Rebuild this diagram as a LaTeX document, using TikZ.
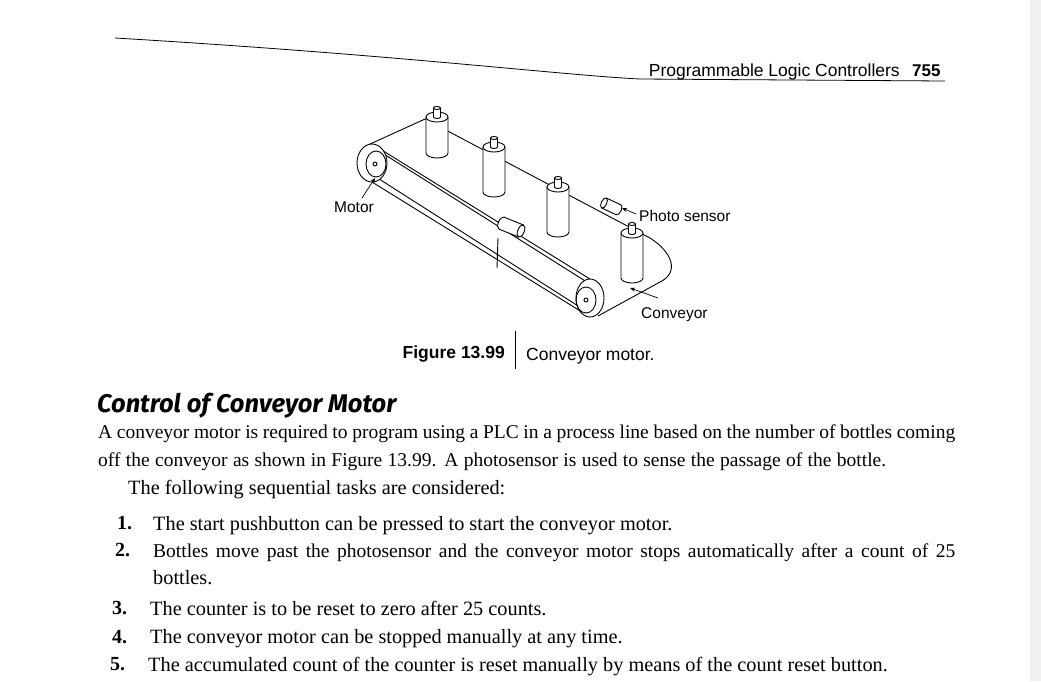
\documentclass[tikz,border=0pt]{standalone}
\usepackage{fontspec}
\setmainfont{Liberation Serif}
\setsansfont{Liberation Sans}
\newfontfamily\headfont{Fira Sans}
\tikzset{
  ln/.style={line width=0.9pt, line join=round},
  lbl/.style={font=\sffamily\fontsize{15.5}{15.5}\selectfont, inner sep=0pt},
  body/.style={font=\fontsize{20.3}{21}\selectfont, anchor=base west, inner sep=0pt},
  bodyj/.style={font=\fontsize{19.5}{21}\selectfont, anchor=base west, inner sep=0pt},
  num/.style={font=\bfseries\fontsize{20}{21}\selectfont, anchor=base west, inner sep=0pt},
  arr/.style={line width=0.7pt, -{Stealth[length=5pt,width=4pt]}}
}
\usetikzlibrary{arrows.meta}
\newcommand{\bottle}[3]{% x, top y, bottom y
  \fill[white] (#1-11,#2) -- (#1-11,#3) arc[start angle=180,end angle=0,x radius=11,y radius=5] -- (#1+11,#2) -- cycle;
  \draw[ln] (#1-11,#2) -- (#1-11,#3) arc[start angle=180,end angle=0,x radius=11,y radius=5] -- (#1+11,#2);
  \draw[ln,fill=white] (#1,#2) ellipse[x radius=11,y radius=5];
  \draw[ln,fill=white] (#1-3.5,#2) -- (#1-3.5,#2-9) -- (#1+3.5,#2-9) -- (#1+3.5,#2) arc[start angle=0,end angle=180,x radius=3.5,y radius=1.5];
  \draw[ln,fill=white] (#1,#2-9) ellipse[x radius=3.5,y radius=1.5];
}
\newcommand{\hcyl}[2]{% length, radius (local coords)
  \draw[ln, fill=white] (0,-#2) -- (#1,-#2) arc[start angle=-90,end angle=90,x radius=#2*0.5,y radius=#2] -- (0,#2) -- cycle;
  \draw[ln, fill=white] (0,0) ellipse[x radius=#2*0.5,y radius=#2];
}
\begin{document}
\begin{tikzpicture}[x=1pt,y=-1pt]
\useasboundingbox (0,0) rectangle (1041,681);
\fill[gray!12] (1030,0) rectangle (1041,681);
% header
\draw[line width=0.8pt] (115,38) .. controls (400,55) and (560,75) .. (640,79) -- (945,81);
\node[lbl, font=\sffamily\fontsize{17.5}{17.5}\selectfont, anchor=base east] (hdr) at (900,76) {Programmable Logic Controllers};
\node[lbl, font=\sffamily\bfseries\fontsize{17}{17}\selectfont, anchor=base west] (pg) at (912,76) {755};
% conveyor top surface
\coordinate (blt) at (368,145);
\coordinate (bk) at (425,119);
\coordinate (bre) at (650,238);
\coordinate (bbot) at (598,316);
\draw[ln, fill=white] (blt) -- (bk) -- (bre) .. controls (672,252) and (680,272) .. (660,282) -- (bbot);
% bottles
\bottle{437}{117}{153}
\bottle{494}{147}{192}
\bottle{558}{187}{232}
\bottle{632}{233}{278}
% belt band
\fill[white] (372,144) -- (590,279) -- (590,317) -- (372,182) -- cycle;
\draw[ln] (372,144) -- (590,279);
\draw[ln] (379,151) -- (590,284);
\draw[ln] (372,182) -- (590,317);
\draw[ln] (376,177) -- (586,311);
\draw[ln, fill=white] (372,163) ellipse[x radius=15,y radius=19];
\draw[ln] (376,164) ellipse[x radius=10,y radius=13];
\draw[ln] (375,164) circle[radius=2];
\draw[ln, fill=white] (590,298) ellipse[x radius=14,y radius=19];
\draw[ln] (586,300) ellipse[x radius=10,y radius=13];
\draw[ln] (586,300) circle[radius=2];
% stand device on belt
\draw[ln] (498,238) -- (497,268);
\begin{scope}[shift={(521,231)}, rotate=158]
\hcyl{21}{6.5}
\end{scope}
% photo sensor
\begin{scope}[shift={(604,203)}, rotate=-25]
\hcyl{16}{5.5}
\end{scope}
% labels
\node[lbl, anchor=base west] (ms) at (334,212) {Motor};
\coordinate (mtip) at (375,178);
\draw[arr] (362,198) -- (mtip);
\node[lbl, anchor=base west] (ps) at (639,221) {Photo sensor};
\coordinate (ptip) at (622,208);
\draw[arr] (636,214) -- (ptip);
\node[lbl, anchor=base west] (cv) at (641,318) {Conveyor};
\coordinate (ctip) at (630,288);
\draw[arr] (658,298) -- (ctip);
% caption
\node[lbl, font=\sffamily\bfseries\fontsize{17.5}{17.5}\selectfont, anchor=base east] (fig) at (505,358) {Figure 13.99};
\draw[line width=1pt] (515,331) -- (515,369);
\node[lbl, font=\sffamily\fontsize{17.5}{17.5}\selectfont, anchor=base west] (cap) at (526,360) {Conveyor motor.};
% text
\node[anchor=base west, inner sep=0pt, font=\headfont\bfseries\itshape\fontsize{25.5}{25.5}\selectfont] (h) at (97,412) {Control of Conveyor Motor};
\node[bodyj] (t1) at (98,438) {\makebox[857pt][s]{A conveyor motor is required to program using a PLC in a process line based on the number of bottles coming}};
\node[bodyj] (t2) at (98,466) {\makebox[788pt][s]{off the conveyor as shown in Figure 13.99. A photosensor is used to sense the passage of the bottle.}};
\node[body] (t3) at (128,494) {The following sequential tasks are considered:};
\node[num] (n1) at (117,529) {1.};
\node[body] (l1) at (153,530) {The start pushbutton can be pressed to start the conveyor motor.};
\node[num] (n2) at (115,556) {2.};
\node[bodyj] (l2) at (153,557) {\makebox[802pt][s]{Bottles move past the photosensor and the conveyor motor stops automatically after a count of 25}};
\node[body] (l2b) at (153,584) {bottles.};
\node[num] (n3) at (112,614) {3.};
\node[body] (l3) at (150,615) {The counter is to be reset to zero after 25 counts.};
\node[num] (n4) at (112,643) {4.};
\node[body] (l4) at (150,643) {The conveyor motor can be stopped manually at any time.};
\node[num] (n5) at (110,670) {5.};
\node[body] (l5) at (148,671) {The accumulated count of the counter is reset manually by means of the count reset button.};
\end{tikzpicture}
\end{document}
